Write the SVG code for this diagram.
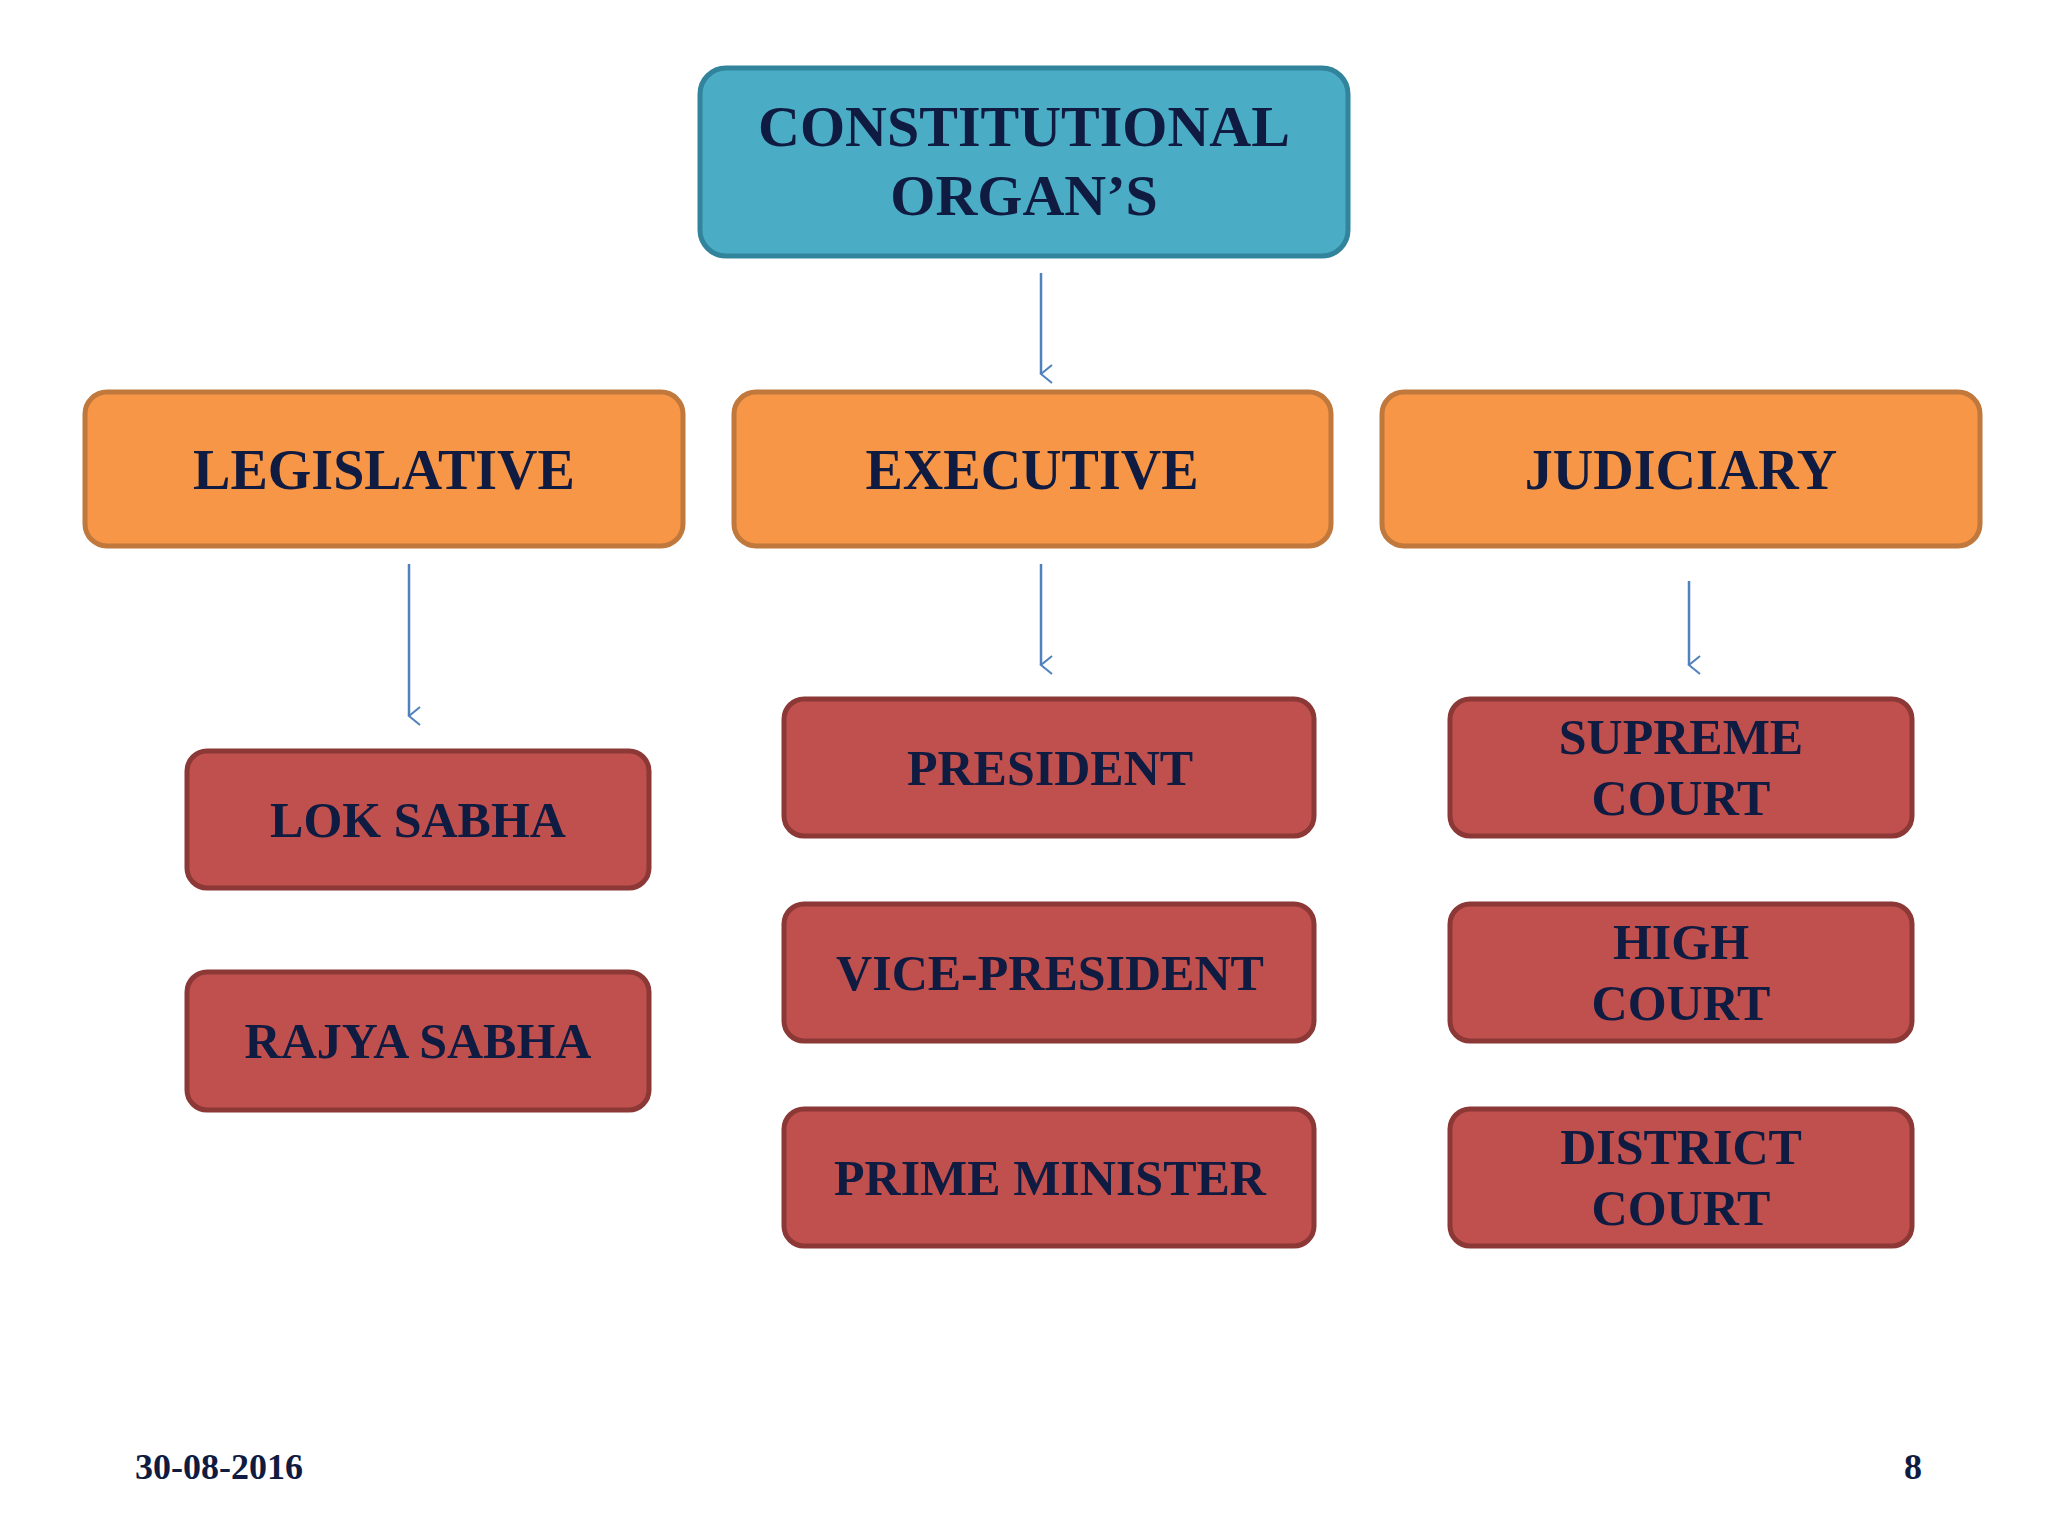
<svg xmlns="http://www.w3.org/2000/svg" width="2048" height="1536" viewBox="0 0 2048 1536">
<defs>
<marker id="ah" markerWidth="20" markerHeight="14" refX="10" refY="12" orient="auto" markerUnits="userSpaceOnUse" viewBox="0 0 20 14">
<path d="M1,1 L10,12 L19,1" fill="none" stroke="#4F81BD" stroke-width="2"/>
</marker>
</defs>
<style>
text{font-family:"Liberation Serif","DejaVu Serif",serif;font-weight:bold;fill:#0F1B40;text-anchor:middle}
.top{fill:#4BACC6;stroke:#31849B;stroke-width:5}
.or{fill:#F79646;stroke:#C0783C;stroke-width:5}
.rd{fill:#C0504D;stroke:#8C3836;stroke-width:5}
.c line{stroke:#4F81BD;stroke-width:2.5;marker-end:url(#ah)}
.t1{font-size:58px}.t2{font-size:56px}.t3{font-size:50px}
</style>
<rect width="2048" height="1536" fill="#FFFFFF"/>
<g id="root"><rect class="top" x="700" y="68" width="648" height="188" rx="26"/><text class="t1" x="1024" y="146">CONSTITUTIONAL</text><text class="t1" x="1024" y="215">ORGAN’S</text></g>
<g id="legislative"><rect class="or" x="85" y="392" width="598" height="154" rx="22"/><text class="t2" x="384" y="489">LEGISLATIVE</text></g>
<g id="executive"><rect class="or" x="734" y="392" width="597" height="154" rx="22"/><text class="t2" x="1032" y="489">EXECUTIVE</text></g>
<g id="judiciary"><rect class="or" x="1382" y="392" width="598" height="154" rx="22"/><text class="t2" x="1681" y="489">JUDICIARY</text></g>
<g id="loksabha"><rect class="rd" x="187" y="751" width="462" height="137" rx="20"/><text class="t3" x="418" y="837">LOK SABHA</text></g>
<g id="rajyasabha"><rect class="rd" x="187" y="972" width="462" height="138" rx="20"/><text class="t3" x="418" y="1058">RAJYA SABHA</text></g>
<g id="president"><rect class="rd" x="784" y="699" width="530" height="137" rx="20"/><text class="t3" x="1050" y="785">PRESIDENT</text></g>
<g id="vicepresident"><rect class="rd" x="784" y="904" width="530" height="137" rx="20"/><text class="t3" x="1050" y="990">VICE-PRESIDENT</text></g>
<g id="primeminister"><rect class="rd" x="784" y="1109" width="530" height="137" rx="20"/><text class="t3" x="1050" y="1195">PRIME MINISTER</text></g>
<g id="supremecourt"><rect class="rd" x="1450" y="699" width="462" height="137" rx="20"/><text class="t3" x="1681" y="754">SUPREME</text><text class="t3" x="1681" y="815">COURT</text></g>
<g id="highcourt"><rect class="rd" x="1450" y="904" width="462" height="137" rx="20"/><text class="t3" x="1681" y="959">HIGH</text><text class="t3" x="1681" y="1020">COURT</text></g>
<g id="districtcourt"><rect class="rd" x="1450" y="1109" width="462" height="137" rx="20"/><text class="t3" x="1681" y="1164">DISTRICT</text><text class="t3" x="1681" y="1225">COURT</text></g>
<g id="connectors" class="c">
<line x1="1041" y1="273" x2="1041" y2="374"/>
<line x1="409" y1="564" x2="409" y2="716"/>
<line x1="1041" y1="564" x2="1041" y2="665"/>
<line x1="1689" y1="581" x2="1689" y2="665"/>
</g>
<text x="219" y="1479" style="font-size:36px">30-08-2016</text>
<text x="1913" y="1479" style="font-size:36px">8</text>
</svg>
